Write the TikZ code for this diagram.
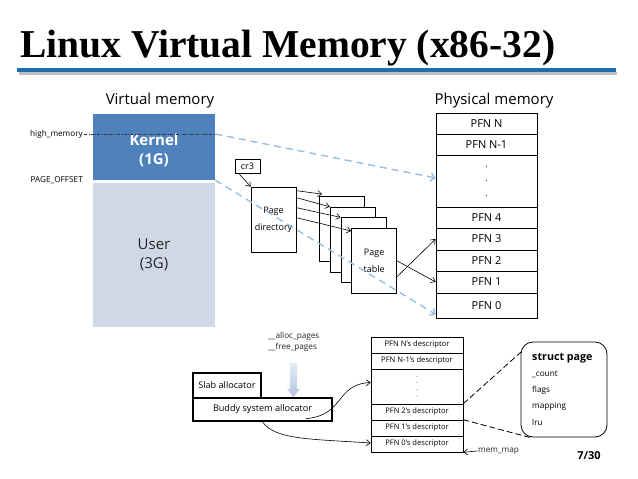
\documentclass[tikz,border=0pt]{standalone}
\usepackage{fontspec}
\setmainfont{Open Sans}
\newfontfamily\titlefont{Liberation Serif}
\usetikzlibrary{arrows.meta,calc}
\definecolor{kern}{RGB}{79,129,189}
\definecolor{usr}{RGB}{208,216,232}
\definecolor{dblue}{RGB}{150,190,228}
\definecolor{tline}{RGB}{30,108,180}
\newcommand{\fs}[1]{\fontsize{#1}{#1}\selectfont}
\begin{document}
\begin{tikzpicture}[x=1pt,y=-1pt,
  cell/.style={draw, fill=white, minimum width=101pt, inner sep=0pt, font=\fs{11}, line width=0.7pt},
  dcell/.style={draw, fill=white, minimum width=92pt, minimum height=16pt, inner sep=0pt, font=\fs{7.6}, line width=0.6pt},
  ptbox/.style={draw, fill=white, minimum width=45pt, minimum height=65pt, inner sep=0pt, line width=0.7pt, align=center, font=\fontsize{9}{17}\selectfont},
  vmap/.style={draw=dblue, line width=1.4pt, dash pattern=on 7pt off 5pt, -{Straight Barb[length=4pt,width=8pt]}},
  ptr/.style={line width=0.6pt, -{Straight Barb[length=4pt,width=6pt]}},
  sidelbl/.style={anchor=east, inner sep=1pt, font=\fs{8.2}},
  spitem/.style={anchor=west, inner sep=0pt, font=\fs{8.2}},
  alloc/.style={draw, line width=1.5pt, inner sep=0pt, font=\fs{9.1}}
]
\useasboundingbox (0,0) rectangle (638,479);
% title
\node[anchor=base west, inner sep=0pt, font=\titlefont\bfseries\fs{39.5}] (title) at (20,57) {Linux Virtual Memory (x86-32)};
\draw[black!25, line width=3pt] (19,73) -- (617,73);
\draw[tline, line width=3.5pt] (17,70) -- (616,70);

% virtual memory
\node[font=\fs{15}, inner sep=0pt] (vml) at (160,101) {Virtual memory};
\node[fill=kern, minimum width=122pt, minimum height=66pt, inner sep=0pt] (kern) at (154,147) {};
\node[text=white, font=\bfseries\fontsize{15}{19}\selectfont, align=center, inner sep=0pt] (kt) at (154,150) {Kernel\\(1G)};
\node[fill=usr, text=black!85, font=\fontsize{15}{19}\selectfont, align=center, minimum width=122pt, minimum height=144pt, inner sep=0pt] (user) at (154,255) {User\\(3G)};
\node[sidelbl] (hm) at (84,134) {high\_memory};
\node[sidelbl] (po) at (84,180) {PAGE\_OFFSET};
\draw[black!80, line width=0.5pt, dash pattern=on 3pt off 1.5pt on 0.6pt off 1.5pt] (hm.east) -- (kern.east |- hm.east);

% page tables
\node[draw, inner sep=0pt, minimum width=25pt, minimum height=14pt, font=\fs{9}, line width=0.6pt] (cr3) at (247.5,166) {cr3};
\node[ptbox] (pd) at (273.5,219.5) {Page\\directory};
\node[ptbox] (pt1) at (342,229) {};
\node[ptbox] (pt2) at (352.7,239.6) {};
\node[ptbox] (pt3) at (363.4,250.2) {};
\node[ptbox] (pt4) at (374.1,260.8) {Page\\table};

% physical memory
\node[font=\fs{15}, inner sep=0pt] (pml) at (494,101) {Physical memory};
\node[cell, minimum height=21pt] (pN) at (486.5,123.5) {PFN N};
\node[cell, minimum height=21pt] (pN1) at (486.5,144.5) {PFN N-1};
\node[cell, minimum height=52pt, align=center, font=\fontsize{11}{14.5}\selectfont, text=black!70] (pdots) at (486.5,181) {.\\.\\.};
\node[cell, minimum height=21pt] (p4) at (486.5,217.5) {PFN 4};
\node[cell, minimum height=22pt] (p3) at (486.5,239) {PFN 3};
\node[cell, minimum height=21pt] (p2) at (486.5,260.5) {PFN 2};
\node[cell, minimum height=22pt] (p1) at (486.5,282) {PFN 1};
\node[cell, minimum height=25pt] (p0) at (486.5,305.5) {PFN 0};
\draw[line width=1.2pt] (p1.south west) -- (p1.south east);

% arrows of the page walk
\draw[ptr] ([xshift=4pt]cr3.south west) -- (pd.north west);
\draw[ptr] ([yshift=-4pt]pd.north east) -- ([xshift=3pt,yshift=2pt]pt1.north west);
\draw[ptr] ([yshift=-11pt]pd.north east) -- (pt2.north west);
\draw[ptr] ([yshift=-21pt]pd.north east) -- (pt3.north west);
\draw[ptr] ([yshift=-31pt]pd.north east) -- ([yshift=-3pt]pt4.north west);
\draw[ptr] (pt4.east) -- (p1.west);
\draw[ptr] ([yshift=-16pt]pt4.east) -- (p3.west);

% kernel mapping
\draw[vmap] (kern.east |- hm.east) -- ([yshift=3pt]pdots.west);
\draw[vmap] (kern.south east) -- ([yshift=4pt]p0.south west);

% allocators
\node[anchor=north west, align=left, inner sep=0pt, font=\fontsize{8.2}{11}\selectfont, text=black!85] (ap) at (268,332) {\_\_alloc\_pages\\\_\_free\_pages};
\shade[top color=usr!50, bottom color=kern!45] (290,363) -- (297,363) -- (297,389) -- (300,389) -- (293.5,397) -- (287,389) -- (290,389) -- cycle;
\node[alloc, minimum width=68pt, minimum height=25pt] (slab) at (227,385.5) {Slab allocator};
\node[alloc, minimum width=139pt, minimum height=23pt] (buddy) at (262.5,409.5) {Buddy system allocator};

% descriptors
\node[dcell] (dN) at (417,345) {PFN N's descriptor};
\node[dcell] (dN1) at (417,361) {PFN N-1's descriptor};
\node[dcell, minimum height=35pt, align=center, font=\fontsize{7}{6.5}\selectfont, text=black!60] (dd) at (417,386.5) {.\\.\\.\\.};
\node[dcell] (d2) at (417,412) {PFN 2's descriptor};
\node[dcell] (d1) at (417,428) {PFN 1's descriptor};
\node[dcell] (d0) at (417,444) {PFN 0's descriptor};

\draw[ptr] ([xshift=-27pt,yshift=3pt]buddy.south east) .. controls +(40,-4) and +(-36,2) .. ([yshift=4pt]dd.west);
\draw[ptr] (buddy.south) .. controls +(12,18) and +(-60,-4) .. ([yshift=1pt]d0.west);

% struct page
\node[draw, rounded corners=12pt, minimum width=86pt, minimum height=95pt, line width=0.8pt] (sp) at (564,389.5) {};
\node[anchor=west, inner sep=0pt, font=\bfseries\fs{10.7}] (spt) at (532,358) {struct page};
\node[spitem] (sc) at (532,374) {\_count};
\node[spitem] (sf) at (532,390) {flags};
\node[spitem] (sm) at (532,406) {mapping};
\node[spitem] (sl) at (532,422) {lru};
\draw[line width=0.8pt, dash pattern=on 6pt off 3pt] (d2.north east) -- ([xshift=2pt,yshift=-9pt]sp.north west);
\draw[line width=0.8pt, dash pattern=on 6pt off 3pt] (d1.north east) -- ([xshift=9pt]sp.south west);

\node[anchor=west, inner sep=1pt, font=\fs{8.2}, text=black!85] (mm) at (477,451) {mem\_map};
\draw[ptr] (mm.west) -- (d0.south east);

\node[font=\bfseries\fs{11}, inner sep=0pt] (pg) at (589,456) {7/30};
\end{tikzpicture}
\end{document}
